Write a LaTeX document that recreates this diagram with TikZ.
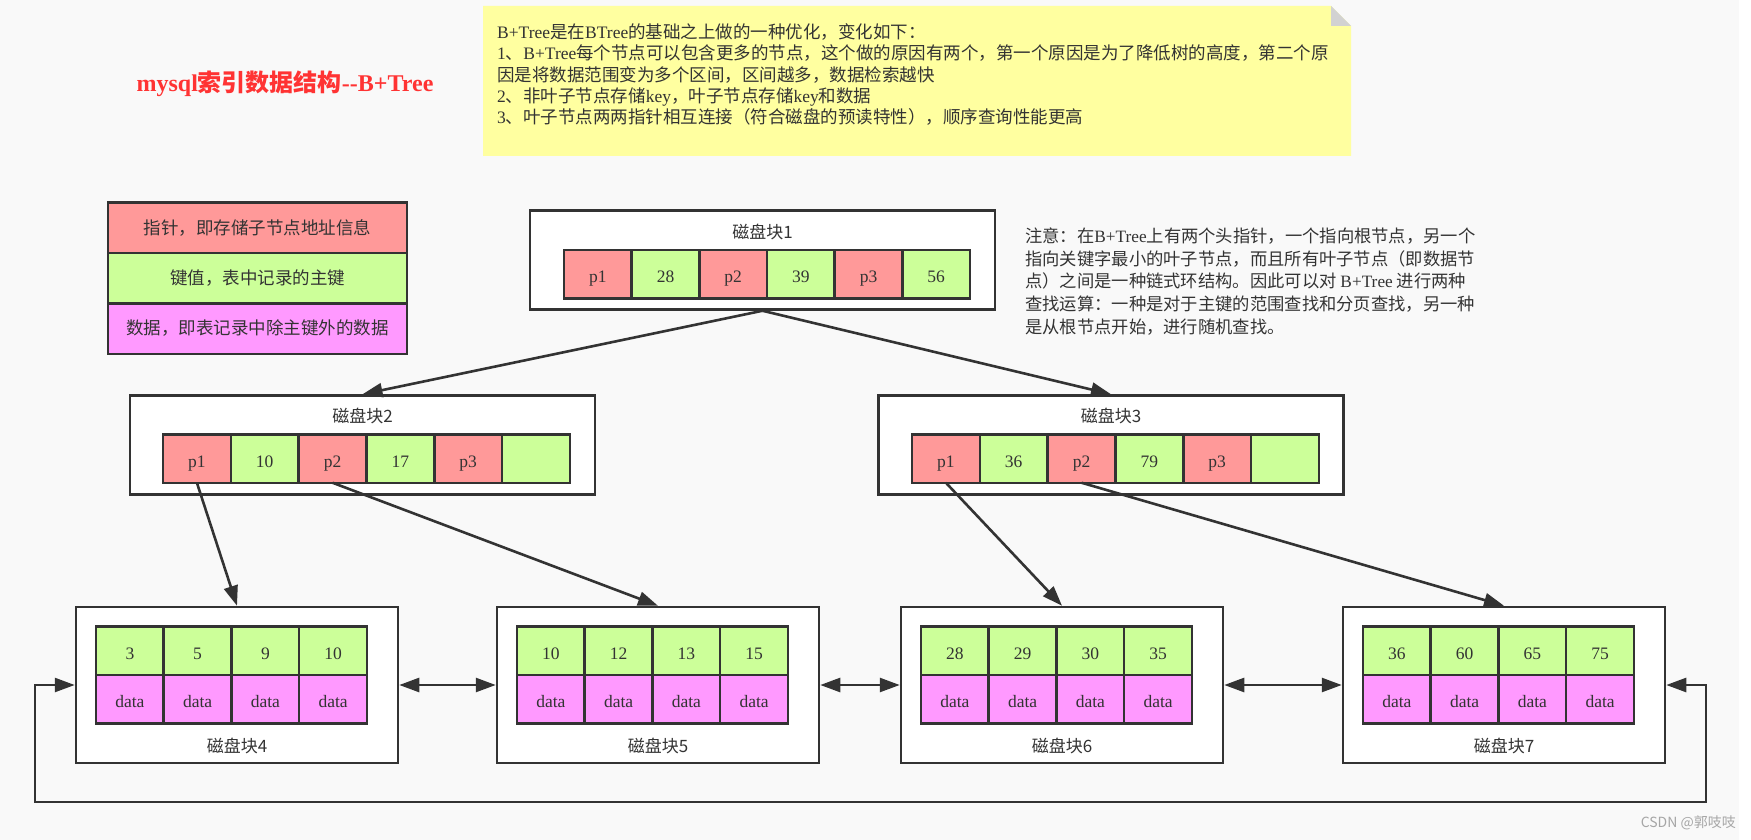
\documentclass[tikz,border=0pt]{standalone}
\usepackage{fontspec}
\setmainfont{Noto Sans CJK SC}
\newfontfamily\en{Liberation Serif}
\usetikzlibrary{arrows.meta}
\definecolor{ptrred}{RGB}{255,153,153}
\definecolor{keygreen}{RGB}{204,255,153}
\definecolor{datapink}{RGB}{255,153,255}
\definecolor{noteyellow}{RGB}{255,255,160}
\definecolor{foldgray}{RGB}{210,210,210}
\definecolor{linegray}{RGB}{51,51,51}
\definecolor{titlered}{RGB}{255,51,51}
\definecolor{bggray}{RGB}{249,249,249}
\tikzset{
  blk/.style={draw=linegray, fill=white, line width=2.5pt, inner sep=0pt,
              minimum width=#1, minimum height=99pt},
  leafblk/.style={draw=linegray, fill=white, line width=2.5pt, inner sep=0pt,
                  minimum width=322pt, minimum height=156pt},
  cellP/.style={draw=linegray, fill=ptrred, line width=2.5pt, inner sep=0pt, outer sep=0pt,
                minimum width=67.8pt, minimum height=48.5pt, text height=17pt, text depth=0pt,
                text=linegray, font=\en\fontsize{17.5}{20}\selectfont},
  cellK/.style={cellP, fill=keygreen},
  cellD/.style={cellP, fill=datapink},
  legbox/.style={draw=linegray, line width=2.5pt, inner sep=0pt,
                 minimum width=299pt, minimum height=50.5pt,
                 text=linegray, font=\fontsize{17.5}{20}\selectfont},
  lbl/.style={text=linegray, inner sep=0pt, font=\fontsize{17}{20}\selectfont},
  arr/.style={-{Triangle[length=20pt, width=14pt]}, draw=linegray, line width=2.6pt},
  dbl/.style={{Triangle[length=20pt, width=14pt]}-{Triangle[length=20pt, width=14pt]},
              draw=linegray, line width=2.6pt},
}
\begin{document}
\begin{tikzpicture}[x=1pt, y=-1pt,
    txt/.style={text=linegray, align=left, inner sep=0pt, anchor=north west},
  ]
  \useasboundingbox (0,0) rectangle (1751,840);
  \fill[bggray] (0,0) rectangle (1739,840);

  % ─── Title and notes ───────────────────────────────────────────────
  \node[text=titlered, font=\bfseries\fontsize{24}{28}\selectfont] (title) at (285,83.5)
    {{\en mysql}索引数据结构{\en -\kern0pt-B+Tree}};

  \fill[noteyellow] (483,6) -- (1331,6) -- (1351,26) -- (1351,156) -- (483,156) -- cycle;
  \fill[foldgray] (1331,6) -- (1331,26) -- (1351,26) -- cycle;
  \node[txt, font=\fontsize{17.5}{21.3}\selectfont] (note) at (497,23.5) {%
    {\en B+Tree}是在{\en BTree}的基础之上做的一种优化，变化如下：\\
    {\en 1}、{\en B+Tree}每个节点可以包含更多的节点，这个做的原因有两个，第一个原因是为了降低树的高度，第二个原\\
    因是将数据范围变为多个区间，区间越多，数据检索越快\\
    {\en 2}、非叶子节点存储{\en key}，叶子节点存储{\en key}和数据\\
    {\en 3}、叶子节点两两指针相互连接（符合磁盘的预读特性），顺序查询性能更高};

  \node[txt, font=\fontsize{17.3}{22.8}\selectfont] (remark) at (1025,227.5) {%
    注意：在{\en B+Tree}上有两个头指针，一个指向根节点，另一个\\
    指向关键字最小的叶子节点，而且所有叶子节点（即数据节\\
    点）之间是一种链式环结构。因此可以对 {\en B+Tree} 进行两种\\
    查找运算：一种是对于主键的范围查找和分页查找，另一种\\
    是从根节点开始，进行随机查找。};

  % Legend
  \node[legbox, fill=ptrred]   (leg1) at (257.5,227.5) {指针，即存储子节点地址信息};
  \node[legbox, fill=keygreen] (leg2) at (257.5,278)   {键值，表中记录的主键};
  \node[legbox, fill=datapink] (leg3) at (257.5,328.5) {数据，即表记录中除主键外的数据};

  % ─── Root: 磁盘块1 ─────────────────────────────────────────────────
  \node[blk=465pt] (b1) at (762.5,260) {};
  \node[lbl] (b1lbl) at (762.5,232) {磁盘块1};
  \node[cellP] (b1p1) at (597.8,274) {p1};
  \node[cellK] (b1k1) at (665.5,274) {28};
  \node[cellP] (b1p2) at (733.2,274) {p2};
  \node[cellK] (b1k2) at (800.8,274) {39};
  \node[cellP] (b1p3) at (868.5,274) {p3};
  \node[cellK] (b1k3) at (936.2,274) {56};

  % ─── Inner nodes: 磁盘块2, 磁盘块3 ─────────────────────────────────
  \node[blk=465pt] (b2) at (362.5,445) {};
  \node[lbl] (b2lbl) at (362.5,416) {磁盘块2};
  \node[cellP] (b2p1) at (196.9,458.5) {p1};
  \node[cellK] (b2k1) at (264.7,458.5) {10};
  \node[cellP] (b2p2) at (332.6,458.5) {p2};
  \node[cellK] (b2k2) at (400.4,458.5) {17};
  \node[cellP] (b2p3) at (468.2,458.5) {p3};
  \node[cellK] (b2k3) at (536.1,458.5) {};

  \node[blk=465pt] (b3) at (1111,445) {};
  \node[lbl] (b3lbl) at (1111,416) {磁盘块3};
  \node[cellP] (b3p1) at (945.9,458.5)  {p1};
  \node[cellK] (b3k1) at (1013.7,458.5) {36};
  \node[cellP] (b3p2) at (1081.6,458.5) {p2};
  \node[cellK] (b3k2) at (1149.4,458.5) {79};
  \node[cellP] (b3p3) at (1217.2,458.5) {p3};
  \node[cellK] (b3k3) at (1285.1,458.5) {};

  % ─── Leaves: 磁盘块4 .. 磁盘块7 ────────────────────────────────────
  \node[leafblk] (b4) at (237,685) {};
  \node[lbl] (b4lbl) at (237,746) {磁盘块4};
  \node[cellK] (b4k1) at (129.9,650.5) {3};
  \node[cellK] (b4k2) at (197.6,650.5) {5};
  \node[cellK] (b4k3) at (265.4,650.5) {9};
  \node[cellK] (b4k4) at (333.1,650.5) {10};
  \node[cellD] (b4d1) at (129.9,699) {data};
  \node[cellD] (b4d2) at (197.6,699) {data};
  \node[cellD] (b4d3) at (265.4,699) {data};
  \node[cellD] (b4d4) at (333.1,699) {data};

  \node[leafblk] (b5) at (658,685) {};
  \node[lbl] (b5lbl) at (658,746) {磁盘块5};
  \node[cellK] (b5k1) at (550.9,650.5) {10};
  \node[cellK] (b5k2) at (618.6,650.5) {12};
  \node[cellK] (b5k3) at (686.4,650.5) {13};
  \node[cellK] (b5k4) at (754.1,650.5) {15};
  \node[cellD] (b5d1) at (550.9,699) {data};
  \node[cellD] (b5d2) at (618.6,699) {data};
  \node[cellD] (b5d3) at (686.4,699) {data};
  \node[cellD] (b5d4) at (754.1,699) {data};

  \node[leafblk] (b6) at (1062,685) {};
  \node[lbl] (b6lbl) at (1062,746) {磁盘块6};
  \node[cellK] (b6k1) at (954.9,650.5)  {28};
  \node[cellK] (b6k2) at (1022.6,650.5) {29};
  \node[cellK] (b6k3) at (1090.4,650.5) {30};
  \node[cellK] (b6k4) at (1158.1,650.5) {35};
  \node[cellD] (b6d1) at (954.9,699)  {data};
  \node[cellD] (b6d2) at (1022.6,699) {data};
  \node[cellD] (b6d3) at (1090.4,699) {data};
  \node[cellD] (b6d4) at (1158.1,699) {data};

  \node[leafblk] (b7) at (1504,685) {};
  \node[lbl] (b7lbl) at (1504,746) {磁盘块7};
  \node[cellK] (b7k1) at (1396.9,650.5) {36};
  \node[cellK] (b7k2) at (1464.6,650.5) {60};
  \node[cellK] (b7k3) at (1532.4,650.5) {65};
  \node[cellK] (b7k4) at (1600.1,650.5) {75};
  \node[cellD] (b7d1) at (1396.9,699) {data};
  \node[cellD] (b7d2) at (1464.6,699) {data};
  \node[cellD] (b7d3) at (1532.4,699) {data};
  \node[cellD] (b7d4) at (1600.1,699) {data};

  % ─── Pointers ──────────────────────────────────────────────────────
  \draw[arr] (b1.south) -- (b2.north);
  \draw[arr] (b1.south) -- (b3.north);
  \draw[arr] (b2p1.south) -- (b4.north);
  \draw[arr] (b2p2.south) -- (b5.north);
  \draw[arr] (b3p1.south) -- (b6.north);
  \draw[arr] (b3p2.south) -- (b7.north);

  % leaf chain (ring)
  \draw[dbl] (b4.east) -- (b5.west);
  \draw[dbl] (b5.east) -- (b6.west);
  \draw[dbl] (b6.east) -- (b7.west);
  \coordinate (loopL) at (35,802);
  \coordinate (loopR) at (1706,802);
  \draw[dbl] (b4.west) -| (loopL) -- (loopR) |- (b7.east);

  \node[text=gray!70, inner sep=0pt, anchor=east, font=\fontsize{14}{16}\selectfont]
    (mark) at (1736,823) {CSDN @郭吱吱};
\end{tikzpicture}
\end{document}
